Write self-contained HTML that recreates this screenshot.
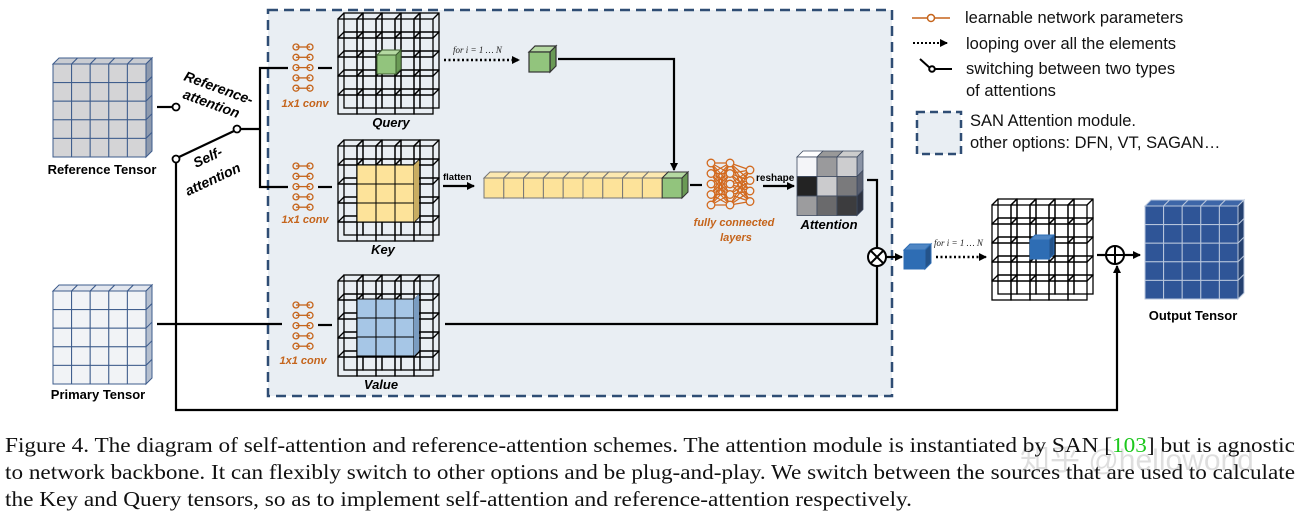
<!DOCTYPE html>
<html><head><meta charset="utf-8"><style>
html,body{margin:0;padding:0;background:#fff;}
svg{display:block;}
.lbl{font-family:"Liberation Sans",sans-serif;font-weight:bold;}
.or{fill:#c5641b;font-family:"Liberation Sans",sans-serif;font-weight:bold;font-style:italic;font-size:11px;}
.leg{font-family:"Liberation Sans",sans-serif;font-size:16.5px;fill:#111;}
.cap{font-family:"Liberation Serif",serif;font-size:21.5px;fill:#111;}
.mt{font-family:"Liberation Serif",serif;font-style:italic;font-size:9px;fill:#222;}
</style></head><body>
<svg id="s" width="1307" height="516" viewBox="0 0 1307 516" xmlns="http://www.w3.org/2000/svg">
<defs>
<marker id="ah" markerWidth="8" markerHeight="8" refX="7" refY="4" orient="auto" markerUnits="userSpaceOnUse"><path d="M0,0 L8,4 L0,8 z" fill="#000"/></marker>
</defs>
<rect x="268" y="10" width="624" height="386" fill="#e9eef3" stroke="#2f4d74" stroke-width="2.5" stroke-dasharray="10,6"/>
<g id="dyn"></g>
<g fill="none" stroke="#000" stroke-width="2.2">
<line x1="157" y1="107" x2="173" y2="107"/>
<line x1="179" y1="157" x2="234" y2="131"/>
<polyline points="240,129 260,129"/>
<polyline points="288,68 260,68 260,187 288,187"/>
<polyline points="176,162 176,410 1117,410 1117,266" marker-end="url(#ah)"/>
<line x1="157" y1="324" x2="282" y2="324"/>
<line x1="318" y1="68" x2="332" y2="68"/>
<line x1="318" y1="187" x2="332" y2="187"/>
<line x1="318" y1="325" x2="332" y2="325"/>
<line x1="444" y1="60" x2="519" y2="60" stroke-dasharray="2,2.5" stroke-width="2.5" marker-end="url(#ah)"/>
<polyline points="558,59 674,59 674,170" marker-end="url(#ah)"/>
<line x1="443" y1="186" x2="474" y2="186" marker-end="url(#ah)"/>
<line x1="690" y1="185" x2="702" y2="185"/>
<line x1="763" y1="186" x2="794" y2="186" marker-end="url(#ah)"/>
<polyline points="867,180 877,180 877,248"/>
<polyline points="877,266 877,324 445,324"/>
<line x1="886" y1="257" x2="902" y2="257" marker-end="url(#ah)"/>
<line x1="936" y1="257" x2="986" y2="257" stroke-dasharray="2,2.5" stroke-width="2.5" marker-end="url(#ah)"/>
<line x1="1097" y1="255" x2="1106" y2="255"/>
<line x1="1124" y1="255" x2="1140" y2="255" marker-end="url(#ah)"/>
<circle cx="176" cy="107" r="3.5" fill="#fff" stroke-width="1.8"/>
<circle cx="237" cy="129" r="3.5" fill="#fff" stroke-width="1.8"/>
<circle cx="176" cy="159" r="3.5" fill="#fff" stroke-width="1.8"/>
<circle cx="877" cy="257" r="9" fill="#fff" stroke-width="2"/>
<path d="M871,251 L883,263 M883,251 L871,263" stroke-width="2"/>
<circle cx="1115" cy="255" r="9" fill="#fff" stroke-width="2"/>
<path d="M1106,255 L1124,255 M1115,246 L1115,264" stroke-width="2"/>
</g>
<text class="lbl" x="102" y="174" font-size="13" text-anchor="middle">Reference Tensor</text>
<text class="lbl" x="98" y="399" font-size="13" text-anchor="middle">Primary Tensor</text>
<text class="lbl" x="1193" y="320" font-size="13" text-anchor="middle">Output Tensor</text>
<g class="lbl" font-style="italic" font-size="13">
<text transform="translate(183,80) rotate(20)" font-size="14">Reference-</text>
<text transform="translate(182,98) rotate(20)" font-size="14">attention</text>
<text transform="translate(196,168) rotate(-25)" font-size="14">Self-</text>
<text transform="translate(188,196) rotate(-25)" font-size="14">attention</text>
<text x="391" y="127" text-anchor="middle">Query</text>
<text x="383" y="254" text-anchor="middle">Key</text>
<text x="381" y="389" text-anchor="middle">Value</text>
<text x="829" y="229" text-anchor="middle">Attention</text>
</g>
<text class="lbl" x="443" y="180" font-size="9.5">flatten</text>
<text class="lbl" x="756" y="181" font-size="10">reshape</text>
<text class="or" x="305" y="107" text-anchor="middle">1x1 conv</text>
<text class="or" x="305" y="223" text-anchor="middle">1x1 conv</text>
<text class="or" x="303" y="364" text-anchor="middle">1x1 conv</text>
<text class="or" x="734" y="226" text-anchor="middle" font-size="10.5">fully connected</text>
<text class="or" x="736" y="241" text-anchor="middle" font-size="10.5">layers</text>
<text class="mt" x="453" y="53">for i = 1 … N</text>
<text class="mt" x="934" y="246">for i = 1 … N</text>
<g stroke="#c5641b" stroke-width="1.5" fill="#fff"><line x1="912" y1="18" x2="950" y2="18"/><circle cx="931" cy="18" r="3.5"/></g>
<line x1="913" y1="43" x2="947" y2="43" stroke="#000" stroke-width="2" stroke-dasharray="2,2" marker-end="url(#ah)"/>
<g stroke="#000" stroke-width="2" fill="#fff"><line x1="920" y1="59" x2="930" y2="68"/><line x1="933" y1="69" x2="952" y2="69"/><circle cx="932" cy="69" r="2.8"/></g>
<rect x="917" y="112" width="44" height="42" fill="#e9eef3" stroke="#2f4d74" stroke-width="2.5" stroke-dasharray="8,5"/>
<text class="leg" x="965" y="23">learnable network parameters</text>
<text class="leg" x="966" y="49">looping over all the elements</text>
<text class="leg" x="966" y="74">switching between two types</text>
<text class="leg" x="966" y="96">of attentions</text>
<text class="leg" x="970" y="126">SAN Attention module.</text>
<text class="leg" x="970" y="148">other options: DFN, VT, SAGAN…</text>
<text class="cap" x="5" y="452" textLength="1290" lengthAdjust="spacingAndGlyphs">Figure 4. The diagram of self-attention and reference-attention schemes. The attention module is instantiated by SAN [<tspan fill="#1ec81e">103</tspan>] but is agnostic</text>
<text class="cap" x="5" y="479" textLength="1290" lengthAdjust="spacingAndGlyphs">to network backbone. It can flexibly switch to other options and be plug-and-play.  We switch between the sources that are used to calculate</text>
<text class="cap" x="5" y="506" textLength="907" lengthAdjust="spacingAndGlyphs">the Key and Query tensors, so as to implement self-attention and reference-attention respectively.</text>
<text x="1020" y="470" font-family="'Liberation Sans','Noto Sans CJK SC',sans-serif" font-size="30" fill="#000" fill-opacity="0.13">知乎 @helloworld</text>
</svg>
<script>
var NS="http://www.w3.org/2000/svg",g=document.getElementById("dyn");
function el(t,a){var e=document.createElementNS(NS,t);for(var k in a)e.setAttribute(k,a[k]);g.appendChild(e);return e;}
function cube(x,y,w,h,d,fill,side,top,stroke,sw){
 el("path",{d:"M"+x+","+y+" l"+d+","+(-d)+" l"+w+",0 l"+(-d)+","+d+" z",fill:top||"none",stroke:stroke,"stroke-width":sw});
 el("path",{d:"M"+(x+w)+","+y+" l"+d+","+(-d)+" l0,"+h+" l"+(-d)+","+d+" z",fill:side||"none",stroke:stroke,"stroke-width":sw});
 el("rect",{x:x,y:y,width:w,height:h,fill:fill||"none",stroke:stroke,"stroke-width":sw});
}
function wire(x,y,c,d,hl){
 for(var r=0;r<5;r++)for(var k=0;k<5;k++){
  el("rect",{x:x+k*c+d,y:y+r*c-d,width:c,height:c,fill:"none",stroke:"#000","stroke-width":1.3});
 }
 for(var r=0;r<5;r++)for(var k=0;k<5;k++){
  el("rect",{x:x+k*c,y:y+r*c,width:c,height:c,fill:"none",stroke:"#000","stroke-width":1.3});
  el("line",{x1:x+k*c,y1:y+r*c,x2:x+k*c+d,y2:y+r*c-d,stroke:"#000","stroke-width":1.3});
  el("line",{x1:x+k*c+c,y1:y+r*c,x2:x+k*c+c+d,y2:y+r*c-d,stroke:"#000","stroke-width":1.3});
 }
 if(hl)hl();
}
wire(338,19,19,6,function(){cube(377,55,19,19,5,"#92c47d","#6a9a55","#b5d9a2","#3d5c30",1);});
wire(338,146,19,6,function(){el("rect",{x:357,y:165,width:57,height:57,fill:"#fde39a",stroke:"#000","stroke-width":1});
 el("path",{d:"M414,165 l5,-5 l0,57 l-5,5z",fill:"#c9ad62"});
 el("line",{x1:376,y1:165,x2:376,y2:222,stroke:"#000","stroke-width":1});el("line",{x1:395,y1:165,x2:395,y2:222,stroke:"#000","stroke-width":1});
 el("line",{x1:357,y1:184,x2:414,y2:184,stroke:"#000","stroke-width":1});el("line",{x1:357,y1:203,x2:414,y2:203,stroke:"#000","stroke-width":1});});
wire(338,281,19,6,function(){el("rect",{x:357,y:299,width:57,height:57,fill:"#a6c6e6",stroke:"#000","stroke-width":1});
 el("path",{d:"M414,299 l5,-5 l0,57 l-5,5z",fill:"#7a9cc0"});
 el("line",{x1:376,y1:299,x2:376,y2:356,stroke:"#000","stroke-width":1});el("line",{x1:395,y1:299,x2:395,y2:356,stroke:"#000","stroke-width":1});
 el("line",{x1:357,y1:318,x2:414,y2:318,stroke:"#000","stroke-width":1});el("line",{x1:357,y1:337,x2:414,y2:337,stroke:"#000","stroke-width":1});});
wire(992,205,19,6,function(){cube(1030,240,19,19,5,"#2e6db4","#24538a","#4f86c4","#2e6db4",1);});
cube(529,52,21,20,6,"#92c47d","#6a9a55","#b5d9a2","#333",1.2);
cube(904,250,21,19,6,"#2e6db4","#24538a","#4f86c4","#2e6db4",1);
for(var i=0;i<10;i++){var gr=i==9;cube(484+i*19.8,178,19.8,20,6,gr?"#92c47d":"#fde39a",gr?"#6a9a55":"#e8cd80",gr?"#b5d9a2":"#fde9b0",gr?"#333":"#777",1);}
function tensor(x,y,fill,line,side,top){var c=18.6,d=6;
 for(var k=0;k<5;k++)el("path",{d:"M"+(x+k*c)+","+y+" l"+d+","+(-d)+" l"+c+",0 l"+(-d)+","+d+" z",fill:top,stroke:line,"stroke-width":1});
 for(var r=0;r<5;r++)el("path",{d:"M"+(x+5*c)+","+(y+r*c)+" l"+d+","+(-d)+" l0,"+c+" l"+(-d)+","+d+" z",fill:side,stroke:line,"stroke-width":1});
 for(var r=0;r<5;r++)for(var k=0;k<5;k++)el("rect",{x:x+k*c,y:y+r*c,width:c,height:c,fill:fill,stroke:line,"stroke-width":1});
}
tensor(53,64,"#d4d4d6","#3e5c8c","#8e9aae","#c9ccd2");
tensor(53,291,"#f1f3f6","#3e5c8c","#b5bfcf","#e2e6ee");
tensor(1145,206,"#2f5597","#b8c6dc","#24406f","#3d66a8");
var cols=[["#f4f5f8","#9a9a9c","#cdcdcf"],["#232323","#cbcbcd","#7a7a7c"],["#9c9c9e","#6a6a6c","#3c3c3e"]];
for(var r=0;r<3;r++){el("path",{d:"M"+(857)+","+(157+r*19.5)+" l6,-6 l0,19.5 l-6,6z",fill:["#8a93a5","#5a6070","#2e3340"][r],stroke:"#3e4a60","stroke-width":0.8});
 for(var k=0;k<3;k++){if(r==0)el("path",{d:"M"+(797+k*20)+",157 l6,-6 l20,0 l-6,6z",fill:["#fff","#999","#ccc"][k],stroke:"#3e4a60","stroke-width":0.8});
 el("rect",{x:797+k*20,y:157+r*19.5,width:20,height:19.5,fill:cols[r][k],stroke:"#3e4a60","stroke-width":0.8});}}
function conv(y0){for(var i=0;i<5;i++){var y=y0+i*10.3;el("line",{x1:296,y1:y,x2:310,y2:y,stroke:"#c5641b","stroke-width":1.3});
 el("circle",{cx:296,cy:y,r:3,fill:"none",stroke:"#c5641b","stroke-width":1.3});el("circle",{cx:310,cy:y,r:3,fill:"none",stroke:"#c5641b","stroke-width":1.3});}}
conv(47);conv(166);conv(305);
var L=[[711,163,5],[730,163,5],[750,170,4]];var pts=[];
for(var a=0;a<3;a++){pts[a]=[];for(var i=0;i<L[a][2];i++)pts[a].push([L[a][0],L[a][1]+i*10.5]);}
for(var a=0;a<2;a++)for(var i=0;i<pts[a].length;i++)for(var j=0;j<pts[a+1].length;j++)el("line",{x1:pts[a][i][0],y1:pts[a][i][1],x2:pts[a+1][j][0],y2:pts[a+1][j][1],stroke:"#d2691e","stroke-width":1.2});
for(var a=0;a<3;a++)for(var i=0;i<pts[a].length;i++)el("circle",{cx:pts[a][i][0],cy:pts[a][i][1],r:3.8,fill:"#e9eef3",stroke:"#d2691e","stroke-width":1.3});
</script>
</body></html>
